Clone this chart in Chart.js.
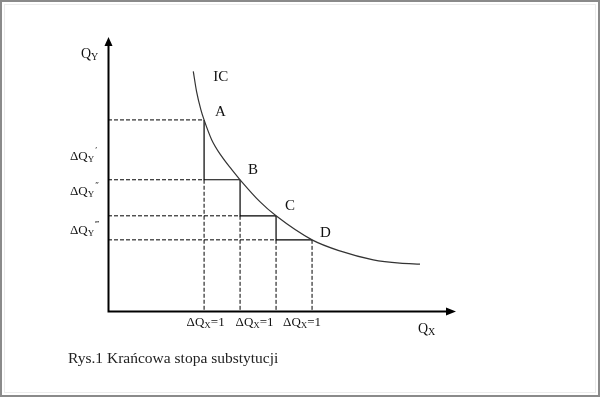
<!DOCTYPE html>
<html>
<head>
<meta charset="utf-8">
<script src="https://cdn.jsdelivr.net/npm/chart.js@4/dist/chart.umd.min.js"></script>
<style>
  html, body { margin:0; padding:0; background:#fff; }
  #wrap { width:600px; height:397px; position:relative; }
</style>
</head>
<body>
<div id="wrap"><canvas id="mrs"></canvas></div>
<script>
// points A-D on the indifference curve
const pointNames = ['A', 'B', 'C', 'D'];
const qx = [3, 4, 5, 6];
const qy = [7.95, 5.46, 3.96, 2.96];

// indifference curve IC
const icX = [2.70, 2.79, 2.91, 3.00, 3.21, 3.49, 3.77, 4.00, 4.55, 5.00, 6.00, 6.77, 7.70, 8.44, 9.00];
const icY = [9.97, 9.14, 8.38, 7.95, 7.13, 6.43, 5.88, 5.46, 4.55, 3.96, 2.96, 2.50, 2.13, 1.99, 1.95];

// axis and tick texts
const dyLabels = ['\u2032', '\u2033', '\u2034'];   // ΔQY', ΔQY'', ΔQY'''
const dxLabels = ['\u0394Q|X|=1', '\u0394Q|X|=1', '\u0394Q|X|=1'];
const caption  = 'Rys.1 Kra\u0144cowa stopa substytucji';

const X_MIN = 0.33, X_MAX = 10, Y_MIN = 0, Y_MAX = 11.4;
const SERIF = '"Liberation Serif", "Times New Roman", serif';

// helpers to build line datasets from the arrays
function pts(xs, ys) { return xs.map((x, i) => ({ x, y: ys[i] })); }

const dashH = [], dashV = [], steps = [];
qx.forEach((x, i) => {
  // horizontal guide from Y axis to the step
  const left = i === 0 ? x : qx[i - 1];
  dashH.push({ x: X_MIN, y: qy[i] }, { x: left, y: qy[i] }, { x: NaN, y: NaN });
  // vertical guide down to the X axis
  const low = i < qx.length - 1 ? qy[i + 1] : qy[i];
  dashV.push({ x, y: low }, { x, y: Y_MIN }, { x: NaN, y: NaN });
  // solid step triangle
  if (i < qx.length - 1) {
    steps.push({ x, y: qy[i] }, { x, y: qy[i + 1] }, { x: qx[i + 1], y: qy[i + 1] }, { x: NaN, y: NaN });
  }
});

// text pieces: [text, 'n' | 'sub' | 'sup']
function drawRich(ctx, x, y, parts, size, align) {
  const fonts = { n: size + 'px ' + SERIF, s: Math.round(size * 0.72) + 'px ' + SERIF };
  let w = 0;
  parts.forEach(p => { ctx.font = p[1] === 'n' ? fonts.n : fonts.s; w += ctx.measureText(p[0]).width; });
  let cx = align === 'center' ? x - w / 2 : x;
  parts.forEach(p => {
    ctx.font = p[1] === 'n' ? fonts.n : fonts.s;
    const dy = p[1] === 'sub' ? 2 : p[1] === 'sup' ? -size * 0.5 : 0;
    ctx.fillText(p[0], cx + (p[1] === 'sup' ? 1 : 0), y + dy);
    cx += ctx.measureText(p[0]).width;
  });
}

const decor = {
  id: 'decor',
  afterDatasetsDraw(chart) {
    const { ctx } = chart;
    const sx = chart.scales.x, sy = chart.scales.y;
    const ox = sx.getPixelForValue(X_MIN), oy = sy.getPixelForValue(Y_MIN);
    const top = sy.getPixelForValue(Y_MAX), right = sx.getPixelForValue(X_MAX);
    ctx.save();
    // frame
    ctx.strokeStyle = '#8a8a8a'; ctx.lineWidth = 2;
    ctx.strokeRect(1, 1, 598, 395);
    ctx.strokeStyle = '#ececec'; ctx.lineWidth = 1;
    ctx.strokeRect(4.5, 4.5, 591, 388);

    // axes with arrows
    ctx.strokeStyle = '#000'; ctx.fillStyle = '#000'; ctx.lineWidth = 2;
    ctx.beginPath();
    ctx.moveTo(ox + 0.5, oy + 0.5); ctx.lineTo(ox + 0.5, top + 6);
    ctx.moveTo(ox - 0.5, oy + 0.5); ctx.lineTo(right - 6, oy + 0.5);
    ctx.stroke();
    ctx.beginPath();
    ctx.moveTo(ox + 0.5, top); ctx.lineTo(ox - 3.5, top + 9); ctx.lineTo(ox + 4.5, top + 9); ctx.closePath();
    ctx.fill();
    ctx.beginPath();
    ctx.moveTo(right, oy + 0.5); ctx.lineTo(right - 10, oy - 3.5); ctx.lineTo(right - 10, oy + 4.5); ctx.closePath();
    ctx.fill();

    ctx.fillStyle = '#111';
    ctx.textBaseline = 'alphabetic';
    ctx.textAlign = 'left';

    // axis names
    drawRich(ctx, ox - 27, top + 21, [['Q', 'n'], ['Y', 'sub']], 14, 'left');
    drawRich(ctx, right - 38, oy + 22, [['Q', 'n'], ['X', 'sub']], 14, 'left');

    // curve name and point letters
    ctx.font = '15px ' + SERIF;
    ctx.fillText('IC', sx.getPixelForValue(icX[0]) + 20, sy.getPixelForValue(icY[0]) + 10);
    const nudge = [[11, -4], [8, -6], [9, -6], [8, -3]];
    pointNames.forEach((n, i) => {
      ctx.fillText(n, sx.getPixelForValue(qx[i]) + nudge[i][0], sy.getPixelForValue(qy[i]) + nudge[i][1]);
    });

    // ΔQY labels, beside the Y axis between the guide lines
    const dyNudge = [10, -3, 6];
    dyLabels.forEach((s, i) => {
      const mid = sy.getPixelForValue((qy[i] + qy[i + 1]) / 2);
      drawRich(ctx, ox - 38, mid + dyNudge[i], [['\u0394Q', 'n'], ['Y', 'sub'], [s, 'sup']], 13, 'left');
    });

    // ΔQX labels under the X axis
    const dxNudge = [1.5, 14.5, 26];
    dxLabels.forEach((s, i) => {
      const p = s.split('|');
      drawRich(ctx, sx.getPixelForValue(qx[i]) + dxNudge[i], oy + 15,
        [[p[0], 'n'], [p[1], 'sub'], [p[2], 'n']], 13, 'center');
    });

    // caption
    ctx.font = '15.5px ' + SERIF;
    ctx.fillStyle = '#222';
    ctx.fillText(caption, 68, 363);
    ctx.restore();
  }
};

new Chart(document.getElementById('mrs'), {
  type: 'scatter',
  data: {
    datasets: [
      { data: pts(icX, icY), showLine: true, borderColor: '#333', borderWidth: 1.2, pointRadius: 0,
        cubicInterpolationMode: 'monotone' },
      { data: dashH, showLine: true, borderColor: '#000', borderWidth: 1, borderDash: [4, 2], pointRadius: 0, spanGaps: false },
      { data: dashV, showLine: true, borderColor: '#000', borderWidth: 1, borderDash: [4, 2], pointRadius: 0, spanGaps: false },
      { data: steps, showLine: true, borderColor: '#000', borderWidth: 1.2, pointRadius: 0, spanGaps: false }
    ]
  },
  options: {
    responsive: true, maintainAspectRatio: false,
    animation: false,
    layout: { padding: { left: 108, right: 144, top: 37, bottom: 86 } },
    plugins: { legend: { display: false }, tooltip: { enabled: false } },
    scales: {
      x: { type: 'linear', min: X_MIN, max: X_MAX, display: false },
      y: { type: 'linear', min: Y_MIN, max: Y_MAX, display: false }
    }
  },
  plugins: [decor]
});
</script>
</body>
</html>
